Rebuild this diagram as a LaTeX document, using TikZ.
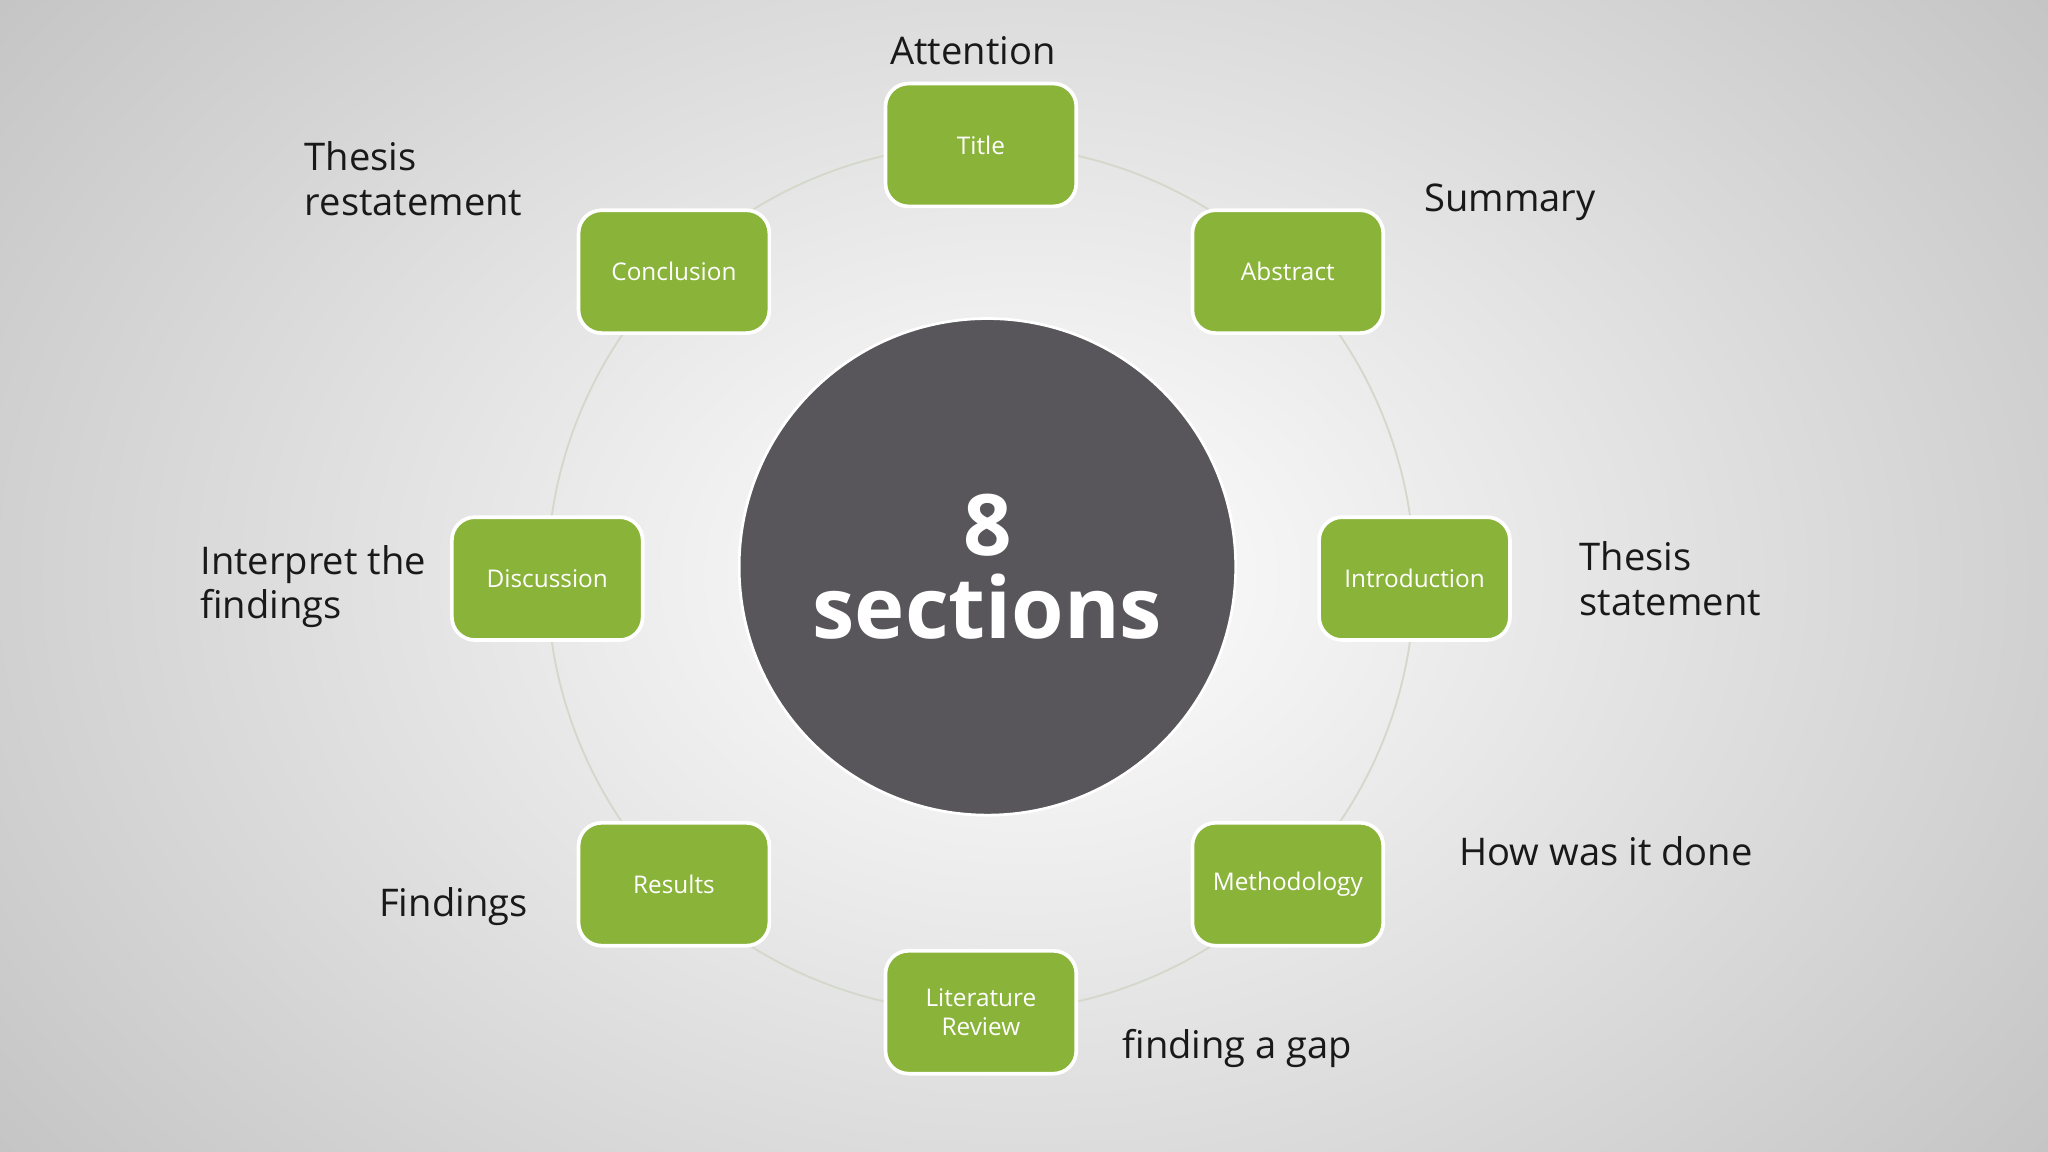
\documentclass[tikz,border=0pt]{standalone}
\usepackage{fontspec}
\setmainfont{Open Sans}
\begin{document}
\begin{tikzpicture}[x=0.01cm,y=-0.01cm,
  box/.style={draw=white,line width=0.8pt,fill=boxgreen,rounded corners=5pt,minimum width=1.46cm,minimum height=0.94cm,text=white,font=\fontsize{5.3pt}{6.4pt}\selectfont,align=center},
  lab/.style={font=\fontsize{8.3pt}{9.7pt}\selectfont,text=black!90,align=left,anchor=west}]
\definecolor{boxgreen}{HTML}{8AB33A}
\definecolor{core}{HTML}{58565A}
\useasboundingbox (0,0) rectangle (1568,882);
\shade[inner color=white,outer color=black!24] (-250,-330) rectangle (1818,1212);
\draw[draw=boxgreen!30!gray!35,line width=0.4pt] (751,443) circle (332);
\node[circle,fill=core,draw=white,line width=0.6pt,minimum size=3.8cm,text=white,font=\bfseries\fontsize{18.5pt}{18pt}\selectfont,align=center] (c) at (756,434) {8\\sections};
\node[box] (t) at (751,111) {Title};
\node[box] (a) at (986,208) {Abstract};
\node[box] (i) at (1083,443) {Introduction};
\node[box] (m) at (986,677) {Methodology};
\node[box] (l) at (751,775) {Literature\\Review};
\node[box] (r) at (516,677) {Results};
\node[box] (d) at (419,443) {Discussion};
\node[box] (co) at (516,208) {Conclusion};
\node[lab,anchor=center] (la) at (745,39) {Attention};
\node[lab] (lts) at (221,137) {Thesis\\restatement};
\node[lab] (ls) at (1078,155) {Summary};
\node[lab] (lst) at (1197,443) {Thesis\\statement};
\node[lab] (lh) at (1105,652) {How was it done};
\node[lab] (lg) at (847,803) {finding a gap};
\node[lab] (lf) at (278,694) {Findings};
\node[lab] (li) at (141,449) {Interpret the\\findings};
\end{tikzpicture}
\end{document}
